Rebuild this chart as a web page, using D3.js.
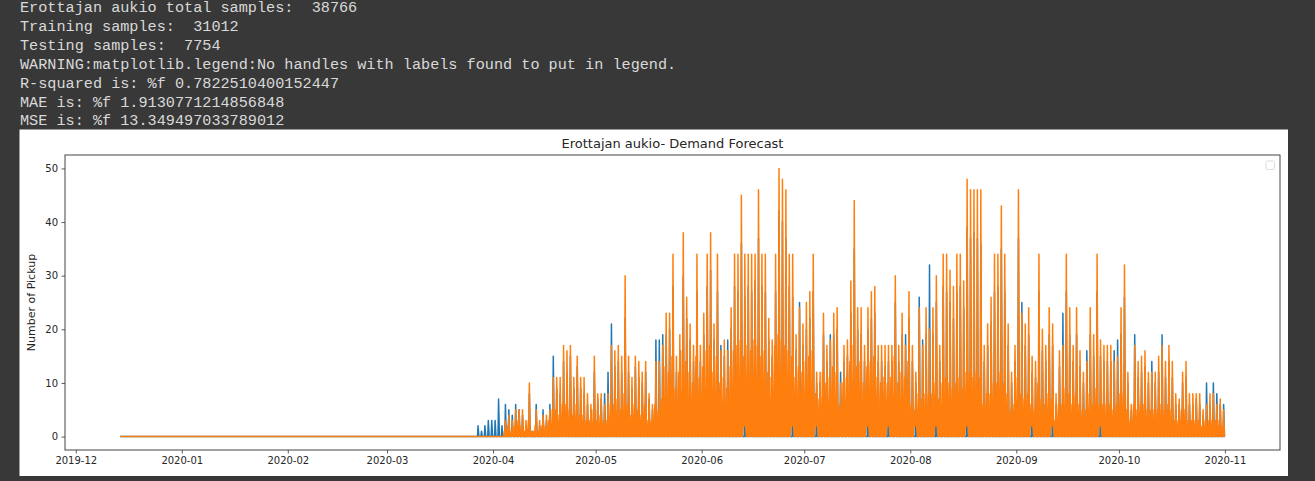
<!DOCTYPE html>
<html><head><meta charset="utf-8">
<script src="https://cdn.jsdelivr.net/npm/d3@7"></script>
<style>
html,body{margin:0;padding:0;background:#383838;overflow:hidden;}
svg{display:block;}
</style></head><body>
<svg id="c" width="1315" height="481"></svg>
<script>
// ---- data ----
const consoleLines = [
  "Erottajan aukio total samples:  38766",
  "Training samples:  31012",
  "Testing samples:  7754",
  "WARNING:matplotlib.legend:No handles with labels found to put in legend.",
  "R-squared is: %f 0.7822510400152447",
  "MAE is: %f 1.9130771214856848",
  "MSE is: %f 13.349497033789012"
];
const chartTitle = "Erottajan aukio- Demand Forecast";
const yLabel = "Number of Pickup";
const testStart = "2019-12-14T00:00";
const testEnd = "2020-10-31T23:00";
const activeStart = "2020-03-27";
// daily peak of the predicted series (orange), from 2020-03-27
const predPeak = [
  0,0,0,0,0,0,0,0,3,4,
  3,5,5,5,3,10,1,5,3,4,
  4,5,11,11,11,17,16,17,11,15,
  11,11,8,6,15,8,8,6,8,17,
  16,17,15,30,15,11,15,14,12,14,
  8,6,14,14,17,23,23,34,15,19,
  38,26,21,17,34,17,23,34,38,21,
  34,16,18,16,24,34,34,45,34,34,
  34,34,46,34,34,22,18,34,50,48,
  46,34,34,19,24,21,25,27,34,12,
  12,23,17,18,23,24,10,17,18,29,
  44,24,24,17,24,27,28,17,17,17,
  17,17,30,17,23,17,27,17,12,24,
  17,24,20,24,30,17,34,34,31,28,
  34,34,29,48,46,46,46,46,17,21,
  26,34,34,43,34,21,12,17,46,23,
  21,24,15,14,34,20,17,24,21,8,
  16,17,34,24,17,24,16,12,14,24,
  19,34,18,17,17,17,14,15,24,32,
  12,6,17,14,15,16,12,12,12,15,
  17,14,17,14,8,7,12,14,8,8,
  8,8,5,6,8,8,6,7,5
];
// daily secondary level of the predicted series
const predSecond = [
  0,0,0,0,0,0,0,0,1,2,
  1,2,3,2,1,3,1,2,1,2,
  2,3,5,5,4,6,6,5,4,6,
  4,4,3,3,5,3,4,3,3,6,
  6,7,5,8,6,4,6,5,4,6,
  3,3,6,5,7,13,12,15,9,12,
  16,14,12,10,15,11,13,16,17,12,
  15,10,11,9,13,16,17,18,15,17,
  16,18,17,15,16,12,11,17,19,18,
  17,16,15,11,13,12,14,15,16,8,
  7,12,10,11,13,12,6,10,11,14,
  17,13,14,10,13,14,15,11,10,11,
  10,11,15,10,12,11,14,6,5,8,
  7,8,8,8,10,7,10,11,10,9,
  10,11,9,12,12,11,12,11,6,8,
  8,10,10,12,10,8,5,6,11,8,
  7,8,6,5,10,7,6,8,7,3,
  6,6,9,8,6,8,6,5,5,8,
  6,9,6,6,6,6,5,6,8,8,
  5,3,6,5,6,6,5,5,5,5,
  6,5,6,5,3,3,5,5,3,3,
  3,3,2,3,3,3,3,3,2
];
// daily peak of the actual series (blue), from 2020-03-27
const actualPeak = [
  2,1,2,3,3,3,7,2,6,5,
  4,6,5,4,2,8,1,6,2,5,
  3,6,15,9,8,14,12,15,9,13,
  9,8,6,5,12,7,7,8,12,21,
  13,14,12,22,12,9,13,11,10,12,
  7,5,18,18,19,19,20,28,12,16,
  30,22,18,14,27,14,19,28,31,18,
  27,17,15,18,20,28,27,36,26,28,
  27,29,37,28,27,18,15,27,42,40,
  37,28,26,16,25,17,20,22,27,10,
  10,19,14,19,19,20,12,14,15,23,
  35,20,19,14,20,22,23,14,14,13,
  14,14,25,14,19,19,22,14,10,26,
  18,19,32,19,25,14,28,27,25,22,
  27,28,24,39,37,38,37,36,14,17,
  21,27,28,35,27,17,10,14,37,25,
  17,19,12,11,27,16,14,19,17,6,
  13,23,27,19,14,19,13,10,16,19,
  15,27,15,14,14,14,16,18,19,26,
  10,5,19,11,12,13,10,14,10,12,
  19,11,14,11,6,6,10,11,6,6,
  7,6,4,10,6,10,8,6,6
];
// days (index from 2020-03-27) where the prediction stays above zero overnight
const predFloorDays = [78,92,99,114,120,128,134,143,162,168,182];
const predFloorValue = 2;
const monthTicks = ["2019-12","2020-01","2020-02","2020-03","2020-04","2020-05","2020-06","2020-07","2020-08","2020-09","2020-10","2020-11"];
const yTicks = [0,10,20,30,40,50];

// ---- build series ----
const pT = d3.timeParse("%Y-%m-%dT%H:%M");
const pD = d3.timeParse("%Y-%m-%d");
const pM = d3.timeParse("%Y-%m");
const t0 = pT(testStart), t1 = pT(testEnd), a0 = pD(activeStart);
const at = (d, h) => d3.timeHour.offset(d3.timeDay.offset(a0, d), h);
const floorSet = new Set(predFloorDays);

const pred = [{t: t0, v: 0}];
const actual = [{t: t0, v: 0}];
predPeak.forEach((P, d) => {
  const f = floorSet.has(d) ? predFloorValue : 0;
  pred.push({t: at(d, 2), v: f}, {t: at(d, 8), v: predSecond[d]}, {t: at(d, 11), v: f},
            {t: at(d, 15), v: P}, {t: at(d, 21), v: f});
  actual.push({t: at(d, 2), v: 0}, {t: at(d, 11), v: 0}, {t: at(d, 15), v: actualPeak[d]}, {t: at(d, 21), v: 0});
});
pred.push({t: t1, v: pred[pred.length - 1].v});
actual.push({t: t1, v: 0});

// ---- layout ----
const svg = d3.select("#c");
const L = 65, R = 1280, T = 155, B = 450;
const span = t1 - t0;
const x = d3.scaleTime().domain([new Date(+t0 - 0.05 * span), new Date(+t1 + 0.05 * span)]).range([L, R]);
const y = d3.scaleLinear().domain([-2.5, 52.5]).range([B, T]);

// console text
const con = svg.append("g").attr("font-family", "'Liberation Mono', 'DejaVu Sans Mono', monospace")
  .attr("font-size", "15.2px").attr("fill", "#d9d9d9");
consoleLines.forEach((s, i) => con.append("text").attr("x", 20).attr("y", 12 + i * 18.9).attr("xml:space", "preserve").text(s));

// figure panel
svg.append("rect").attr("x", 19.5).attr("y", 129.5).attr("width", 1268.5).attr("height", 346.5).attr("fill", "#fff");

svg.append("defs").append("clipPath").attr("id", "clip")
  .append("rect").attr("x", L).attr("y", T).attr("width", R - L).attr("height", B - T);

const line = d3.line().x(d => x(d.t)).y(d => y(d.v));
const g = svg.append("g").attr("clip-path", "url(#clip)");
g.append("path").datum(actual).attr("d", line).attr("fill", "none").attr("stroke", "#1f77b4")
  .attr("stroke-width", 1.5).attr("stroke-linejoin", "round");
g.append("path").datum(pred).attr("d", line).attr("fill", "none").attr("stroke", "#ff7f0e")
  .attr("stroke-width", 1.5).attr("stroke-linejoin", "round");

// axes
const font = "'DejaVu Sans', sans-serif";
const xa = svg.append("g").attr("transform", `translate(0,${B})`)
  .call(d3.axisBottom(x).tickValues(monthTicks.map(pM)).tickFormat(d3.timeFormat("%Y-%m"))
    .tickSize(3.5).tickPadding(3.5).tickSizeOuter(0));
const ya = svg.append("g").attr("transform", `translate(${L},0)`)
  .call(d3.axisLeft(y).tickValues(yTicks).tickSize(3.5).tickPadding(3.5).tickSizeOuter(0));
[xa, ya].forEach(a => {
  a.select(".domain").remove();
  a.selectAll("line").attr("stroke", "#333").attr("stroke-width", 0.8);
  a.selectAll("text").attr("font-family", font).attr("font-size", "10px").attr("fill", "#262626");
});

// frame
svg.append("rect").attr("x", L).attr("y", T).attr("width", R - L).attr("height", B - T)
  .attr("fill", "none").attr("stroke", "#444").attr("stroke-width", 1);

// title & label
svg.append("text").attr("x", (L + R) / 2).attr("y", 148).attr("text-anchor", "middle")
  .attr("font-family", font).attr("font-size", "13px").attr("fill", "#262626").text(chartTitle);
svg.append("text").attr("transform", `translate(31.5,${(T + B) / 2}) rotate(-90)`).attr("dy", "0.35em")
  .attr("text-anchor", "middle").attr("font-family", font).attr("font-size", "11px").attr("fill", "#262626").text(yLabel);

// empty legend box
svg.append("rect").attr("x", 1266).attr("y", 161).attr("width", 8.5).attr("height", 8.5).attr("rx", 1.5)
  .attr("fill", "#fff").attr("stroke", "#d6d6d6").attr("stroke-width", 0.8);
</script>
</body></html>
